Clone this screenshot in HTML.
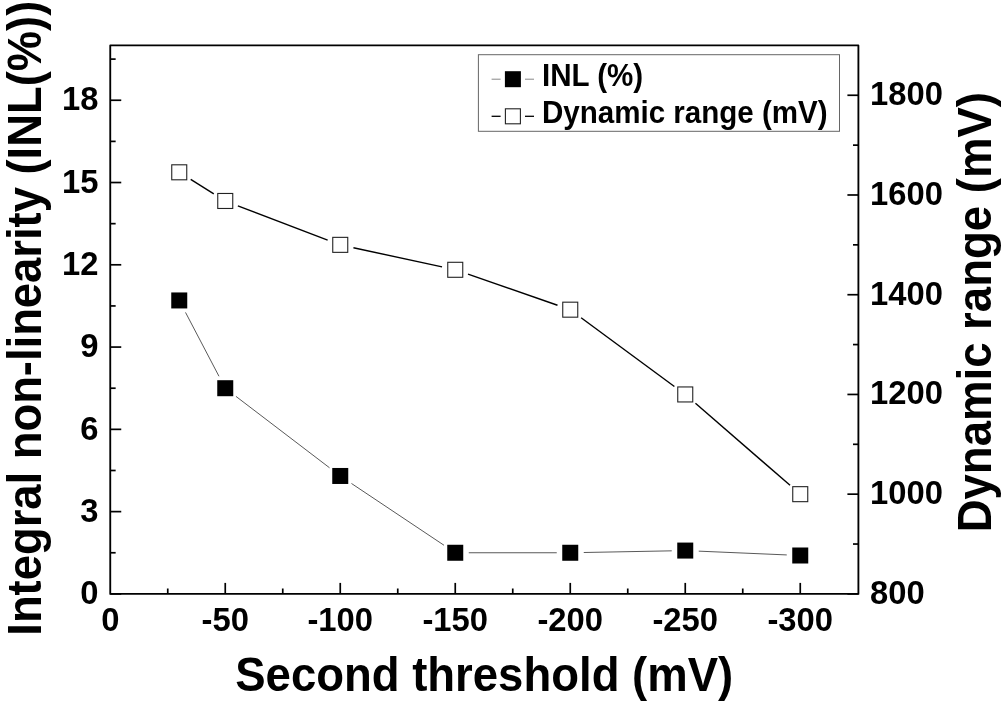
<!DOCTYPE html>
<html lang="en"><head><meta charset="utf-8"><title>INL and dynamic range vs second threshold</title>
<style>html,body{margin:0;padding:0;background:#fff}body{width:1004px;height:704px;overflow:hidden}svg{display:block}text{font-family:"Liberation Sans",Arial,Helvetica,sans-serif;font-weight:bold;fill:#000}</style>
</head><body>
<svg width="1004" height="704" viewBox="0 0 1004 704">
<rect x="0" y="0" width="1004" height="704" fill="#fff"/>
<g stroke="#000" stroke-width="1.85" fill="none" stroke-linejoin="round">
<rect x="110.25" y="45.4" width="748.15" height="548.50"/>
</g>
<g stroke="#000" stroke-width="1.7" fill="none">
<line x1="110.25" y1="593.90" x2="121.25" y2="593.90"/>
<line x1="110.25" y1="511.62" x2="121.25" y2="511.62"/>
<line x1="110.25" y1="429.35" x2="121.25" y2="429.35"/>
<line x1="110.25" y1="347.07" x2="121.25" y2="347.07"/>
<line x1="110.25" y1="264.80" x2="121.25" y2="264.80"/>
<line x1="110.25" y1="182.52" x2="121.25" y2="182.52"/>
<line x1="110.25" y1="100.25" x2="121.25" y2="100.25"/>
<line x1="110.25" y1="552.76" x2="115.65" y2="552.76"/>
<line x1="110.25" y1="470.49" x2="115.65" y2="470.49"/>
<line x1="110.25" y1="388.21" x2="115.65" y2="388.21"/>
<line x1="110.25" y1="305.94" x2="115.65" y2="305.94"/>
<line x1="110.25" y1="223.66" x2="115.65" y2="223.66"/>
<line x1="110.25" y1="141.39" x2="115.65" y2="141.39"/>
<line x1="110.25" y1="59.11" x2="115.65" y2="59.11"/>
<line x1="225.25" y1="593.9" x2="225.25" y2="582.9"/>
<line x1="340.25" y1="593.9" x2="340.25" y2="582.9"/>
<line x1="455.25" y1="593.9" x2="455.25" y2="582.9"/>
<line x1="570.25" y1="593.9" x2="570.25" y2="582.9"/>
<line x1="685.25" y1="593.9" x2="685.25" y2="582.9"/>
<line x1="800.25" y1="593.9" x2="800.25" y2="582.9"/>
<line x1="167.75" y1="593.9" x2="167.75" y2="588.5"/>
<line x1="282.75" y1="593.9" x2="282.75" y2="588.5"/>
<line x1="397.75" y1="593.9" x2="397.75" y2="588.5"/>
<line x1="512.75" y1="593.9" x2="512.75" y2="588.5"/>
<line x1="627.75" y1="593.9" x2="627.75" y2="588.5"/>
<line x1="742.75" y1="593.9" x2="742.75" y2="588.5"/>
<line x1="858.4" y1="593.90" x2="847.4" y2="593.90"/>
<line x1="858.4" y1="494.17" x2="847.4" y2="494.17"/>
<line x1="858.4" y1="394.45" x2="847.4" y2="394.45"/>
<line x1="858.4" y1="294.72" x2="847.4" y2="294.72"/>
<line x1="858.4" y1="194.99" x2="847.4" y2="194.99"/>
<line x1="858.4" y1="95.26" x2="847.4" y2="95.26"/>
<line x1="858.4" y1="544.04" x2="853.0" y2="544.04"/>
<line x1="858.4" y1="444.31" x2="853.0" y2="444.31"/>
<line x1="858.4" y1="344.58" x2="853.0" y2="344.58"/>
<line x1="858.4" y1="244.85" x2="853.0" y2="244.85"/>
<line x1="858.4" y1="145.13" x2="853.0" y2="145.13"/>
</g>
<g stroke="#222" stroke-width="0.75" fill="none">
<line x1="185.52" y1="312.41" x2="218.98" y2="376.26"/>
<line x1="235.98" y1="396.40" x2="329.52" y2="467.78"/>
<line x1="351.48" y1="483.47" x2="444.02" y2="545.27"/>
<line x1="468.75" y1="552.76" x2="556.75" y2="552.76"/>
<line x1="583.75" y1="552.50" x2="671.75" y2="550.83"/>
<line x1="698.74" y1="551.15" x2="786.76" y2="554.93"/>
</g>
<g stroke="#000" stroke-width="1.4" fill="none">
<line x1="190.71" y1="179.44" x2="213.79" y2="193.83"/>
<line x1="237.86" y1="205.79" x2="327.64" y2="240.04"/>
<line x1="353.44" y1="247.71" x2="442.06" y2="266.93"/>
<line x1="468.00" y1="274.21" x2="557.50" y2="305.25"/>
<line x1="581.12" y1="317.69" x2="674.38" y2="386.44"/>
<line x1="695.45" y1="403.29" x2="790.05" y2="485.33"/>
</g>
<g fill="#000" stroke="none">
<rect x="171.25" y="292.45" width="16" height="16"/>
<rect x="217.25" y="380.21" width="16" height="16"/>
<rect x="332.25" y="467.97" width="16" height="16"/>
<rect x="447.25" y="544.76" width="16" height="16"/>
<rect x="562.25" y="544.76" width="16" height="16"/>
<rect x="677.25" y="542.57" width="16" height="16"/>
<rect x="792.25" y="547.50" width="16" height="16"/>
</g>
<g fill="#fff" stroke="#222" stroke-width="1.1">
<rect x="171.75" y="164.80" width="15" height="15"/>
<rect x="217.75" y="193.47" width="15" height="15"/>
<rect x="332.75" y="237.35" width="15" height="15"/>
<rect x="447.75" y="262.29" width="15" height="15"/>
<rect x="562.75" y="302.18" width="15" height="15"/>
<rect x="677.75" y="386.95" width="15" height="15"/>
<rect x="792.75" y="486.67" width="15" height="15"/>
</g>
<rect x="478.4" y="54.7" width="361.10" height="76.60" fill="#fff" stroke="#666" stroke-width="1"/>
<g stroke="#555" stroke-width="0.7"><line x1="491.6" y1="79.2" x2="500.6" y2="79.2"/><line x1="525" y1="79.2" x2="534" y2="79.2"/></g>
<g stroke="#000" stroke-width="1.3"><line x1="491.6" y1="116.3" x2="500.6" y2="116.3"/><line x1="525" y1="116.3" x2="534" y2="116.3"/></g>
<rect x="504.9" y="71.2" width="16" height="16" fill="#000"/>
<rect x="505.4" y="108.8" width="15" height="15" fill="#fff" stroke="#222" stroke-width="1.1"/>
<text transform="translate(542 86) scale(0.9595 1)" font-size="30.8">INL (%)</text>
<text transform="translate(542 122.7) scale(0.9595 1)" font-size="30.8">Dynamic range (mV)</text>
<g font-size="33.2">
<text transform="translate(98.4 604.10) scale(0.987 1)" text-anchor="end">0</text>
<text transform="translate(98.4 521.83) scale(0.987 1)" text-anchor="end">3</text>
<text transform="translate(98.4 439.55) scale(0.987 1)" text-anchor="end">6</text>
<text transform="translate(98.4 357.27) scale(0.987 1)" text-anchor="end">9</text>
<text transform="translate(98.4 275.00) scale(0.987 1)" text-anchor="end">12</text>
<text transform="translate(98.4 192.72) scale(0.987 1)" text-anchor="end">15</text>
<text transform="translate(98.4 110.45) scale(0.987 1)" text-anchor="end">18</text>
<text transform="translate(110.25 630.8) scale(0.987 1)" text-anchor="middle">0</text>
<text transform="translate(225.25 630.8) scale(0.987 1)" text-anchor="middle">-50</text>
<text transform="translate(340.25 630.8) scale(0.987 1)" text-anchor="middle">-100</text>
<text transform="translate(455.25 630.8) scale(0.987 1)" text-anchor="middle">-150</text>
<text transform="translate(570.25 630.8) scale(0.987 1)" text-anchor="middle">-200</text>
<text transform="translate(685.25 630.8) scale(0.987 1)" text-anchor="middle">-250</text>
<text transform="translate(800.25 630.8) scale(0.987 1)" text-anchor="middle">-300</text>
<text transform="translate(870 603.90) scale(0.987 1)" text-anchor="start">800</text>
<text transform="translate(870 504.17) scale(0.987 1)" text-anchor="start">1000</text>
<text transform="translate(870 404.45) scale(0.987 1)" text-anchor="start">1200</text>
<text transform="translate(870 304.72) scale(0.987 1)" text-anchor="start">1400</text>
<text transform="translate(870 204.99) scale(0.987 1)" text-anchor="start">1600</text>
<text transform="translate(870 105.26) scale(0.987 1)" text-anchor="start">1800</text>
</g>
<text transform="translate(484.2 690.6) scale(0.958 1)" font-size="47.5" text-anchor="middle">Second threshold (mV)</text>
<text transform="translate(41.2 318.2) rotate(-90) scale(0.955 1)" font-size="47.5" text-anchor="middle">Integral non-linearity (INL(%))</text>
<text transform="translate(991.2 312.2) rotate(-90) scale(0.959 1)" font-size="47.5" text-anchor="middle">Dynamic range (mV)</text>
</svg>
</body></html>
